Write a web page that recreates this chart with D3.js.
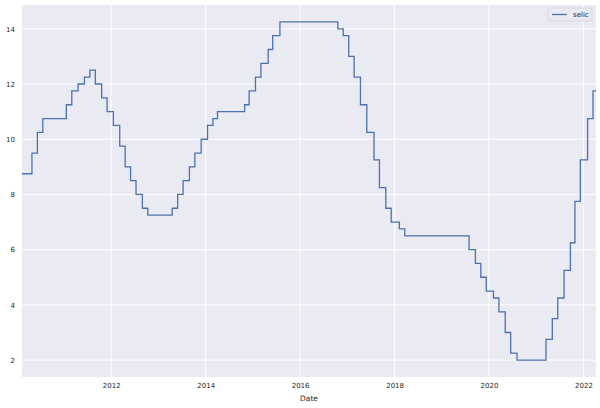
<!DOCTYPE html>
<html>
<head>
<meta charset="utf-8">
<script src="https://cdn.jsdelivr.net/npm/d3@7"></script>
<style>
body{margin:0;background:#fff;}
text{font-family:"DejaVu Sans",sans-serif;fill:#262626;}
</style>
</head>
<body>
<svg id="chart"></svg>
<script>
// Copom decisions: date the new rate took effect, and the rate
var dates=["2010-02-10","2010-04-28","2010-06-09","2010-07-21","2011-01-19","2011-03-02","2011-04-20",
  "2011-06-08","2011-07-20","2011-08-31","2011-10-19","2011-11-30","2012-01-18","2012-03-07",
  "2012-04-18","2012-05-30","2012-07-11","2012-08-29","2012-10-10","2013-04-17","2013-05-29",
  "2013-07-10","2013-08-28","2013-10-09","2013-11-27","2014-01-15","2014-02-26","2014-04-02",
  "2014-10-29","2014-12-03","2015-01-21","2015-03-04","2015-04-29","2015-06-03","2015-07-29",
  "2016-10-19","2016-11-30","2017-01-11","2017-02-22","2017-04-12","2017-05-31","2017-07-26",
  "2017-09-06","2017-10-25","2017-12-06","2018-02-07","2018-03-21","2019-07-31","2019-09-18",
  "2019-10-30","2019-12-11","2020-02-05","2020-03-18","2020-05-06","2020-06-17","2020-08-05",
  "2021-03-17","2021-05-05","2021-06-16","2021-08-04","2021-09-22","2021-10-27","2021-12-08",
  "2022-02-02","2022-03-16","2022-04-08"];
var selic=[8.75,9.5,10.25,10.75,11.25,11.75,12,12.25,12.5,12,11.5,11,10.5,9.75,
  9,8.5,8,7.5,7.25,7.5,8,8.5,9,9.5,10,10.5,10.75,11,
  11.25,11.75,12.25,12.75,13.25,13.75,14.25,14,13.75,13,12.25,11.25,10.25,9.25,
  8.25,7.5,7,6.75,6.5,6,5.5,5,4.5,4.25,3.75,3,2.25,2,
  2.75,3.5,4.25,5.25,6.25,7.75,9.25,10.75,11.75,11.75];
var yTicks=[2,4,6,8,10,12,14];
var xTickYears=[2012,2014,2016,2018,2020,2022];

var W=600,H=408;
var margin={left:22,right:4,top:5,bottom:31};
var w=W-margin.left-margin.right;
var h=H-margin.top-margin.bottom;

var parse=d3.timeParse("%Y-%m-%d");
var data=dates.map(function(d,i){return {date:parse(d),v:selic[i]};});

var svg=d3.select("#chart").attr("width",W).attr("height",H);
var g=svg.append("g").attr("transform","translate("+margin.left+","+margin.top+")");

var xScale=d3.scaleTime()
  .domain(d3.extent(data,function(d){return d.date;}))
  .range([0,w]);
var yMin=d3.min(selic),yMax=d3.max(selic),pad=(yMax-yMin)*0.05;
var yScale=d3.scaleLinear()
  .domain([yMin-pad,yMax+pad])
  .range([h,0]);

g.append("rect").attr("width",w).attr("height",h).attr("fill","#eaeaf2");

var xTicks=xTickYears.map(function(y){return new Date(y,0,1);});

// grid
g.append("g").selectAll("line").data(yTicks).enter().append("line")
  .attr("x1",0).attr("x2",w)
  .attr("y1",function(d){return yScale(d);}).attr("y2",function(d){return yScale(d);})
  .attr("stroke","#fff").attr("stroke-width",1);
g.append("g").selectAll("line").data(xTicks).enter().append("line")
  .attr("y1",0).attr("y2",h)
  .attr("x1",function(d){return xScale(d);}).attr("x2",function(d){return xScale(d);})
  .attr("stroke","#fff").attr("stroke-width",1);

var xAxis=d3.axisBottom(xScale).tickValues(xTicks).tickSize(0).tickPadding(6)
  .tickFormat(d3.timeFormat("%Y"));
var yAxis=d3.axisLeft(yScale).tickValues(yTicks).tickSize(0).tickPadding(7);

g.append("g").attr("transform","translate(0,"+h+")").call(xAxis)
  .call(function(s){s.select(".domain").remove();s.selectAll("text").attr("font-size",7).attr("font-family","DejaVu Sans");});
g.append("g").call(yAxis)
  .call(function(s){s.select(".domain").remove();s.selectAll("text").attr("font-size",7).attr("font-family","DejaVu Sans");});

var line=d3.line()
  .curve(d3.curveStepAfter)
  .x(function(d){return xScale(d.date);})
  .y(function(d){return yScale(d.v);});
g.append("path").datum(data)
  .attr("d",line)
  .attr("fill","none")
  .attr("stroke","#4c72b0")
  .attr("stroke-width",1.3);

g.append("text").attr("x",w/2).attr("y",h+24)
  .attr("text-anchor","middle").attr("font-size",7.5).text("Date");

// legend
var lg=g.append("g").attr("transform","translate("+(w-48)+",3)");
lg.append("rect").attr("width",44).attr("height",13).attr("rx",2)
  .attr("fill","#eaeaf2").attr("stroke","#d4d4dc").attr("stroke-width",0.8);
lg.append("line").attr("x1",4).attr("x2",19).attr("y1",6.5).attr("y2",6.5)
  .attr("stroke","#4c72b0").attr("stroke-width",1.3);
lg.append("text").attr("x",25).attr("y",9).attr("font-size",7).text("selic");
</script>
</body>
</html>
